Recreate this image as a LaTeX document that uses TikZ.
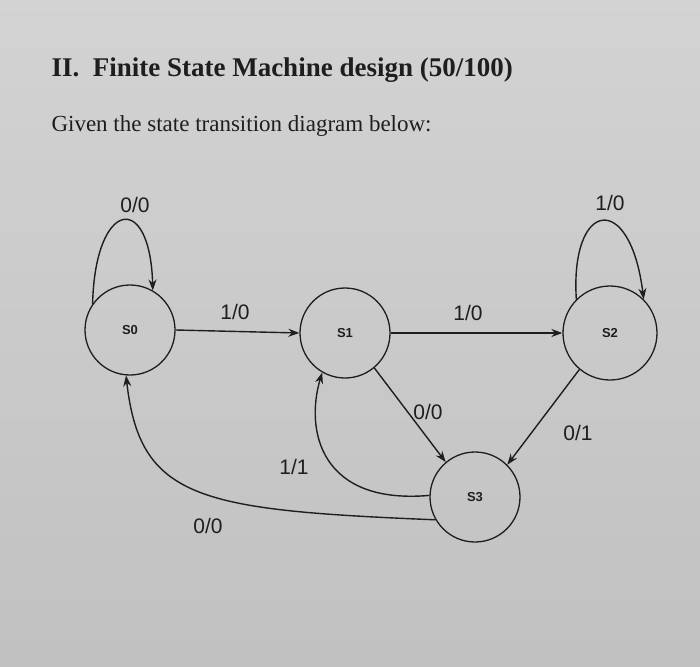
\documentclass[tikz,border=0pt]{standalone}
\usepackage{fontspec}
\usetikzlibrary{arrows.meta}
\setmainfont{Liberation Serif}
\setsansfont{Liberation Sans}
\definecolor{paper}{HTML}{CBCBCB}
\definecolor{ink}{HTML}{1E1E1E}
\begin{document}
\begin{tikzpicture}[x=1pt,y=-1pt,
  st/.style={circle,draw=ink,line width=1.3pt,minimum size=90pt,inner sep=0pt,font=\sffamily\bfseries\fontsize{13}{15}\selectfont,text=ink},
  lbl/.style={font=\sffamily\fontsize{21}{23}\selectfont,text=ink},
  ed/.style={draw=ink,line width=1.4pt,-{Stealth[length=11pt,width=8pt]}}]
\fill[top color=paper!85,bottom color=paper!95!black] (0,0) rectangle (700,666);
\useasboundingbox (0,0) rectangle (700,666);
\node[anchor=west,font=\bfseries\fontsize{27}{30}\selectfont,text=ink] (title) at (48,70) {II.\ \ Finite State Machine design (50/100)};
\node[anchor=west,font=\fontsize{23}{26}\selectfont,text=ink] (given) at (48,126) {Given the state transition diagram below:};
\node[st] (s0) at (130,330) {S0};
\node[st] (s1) at (345,333) {S1};
\node[st,minimum size=94pt] (s2) at (610,333) {S2};
\node[st] (s3) at (475,497) {S3};
\draw[ed] (s0.east) -- (s1.west);
\draw[ed] (s1.east) -- (s2.west);
\draw[ed] (s1.-50) -- (s3.130);
\draw[ed] (s2.-130) -- (s3.45);
\draw[ed] (s0.145) .. controls (95,200) and (150,190) .. (s0.60);
\draw[ed] (s2.135) .. controls (570,200) and (630,190) .. (s2.45);
\draw[ed] (s3.178) .. controls (320,505) and (305,430) .. (s1.-120);
\draw[ed] (s3.-150) .. controls (200,510) and (140,500) .. (s0.-95);
\node[lbl] (l1) at (135,205) {0/0};
\node[lbl] (l2) at (610,203) {1/0};
\node[lbl] (l3) at (235,312) {1/0};
\node[lbl] (l4) at (468,313) {1/0};
\node[lbl] (l5) at (428,412) {0/0};
\node[lbl] (l6) at (578,433) {0/1};
\node[lbl] (l7) at (294,467) {1/1};
\node[lbl] (l8) at (208,526) {0/0};
\end{tikzpicture}
\end{document}
